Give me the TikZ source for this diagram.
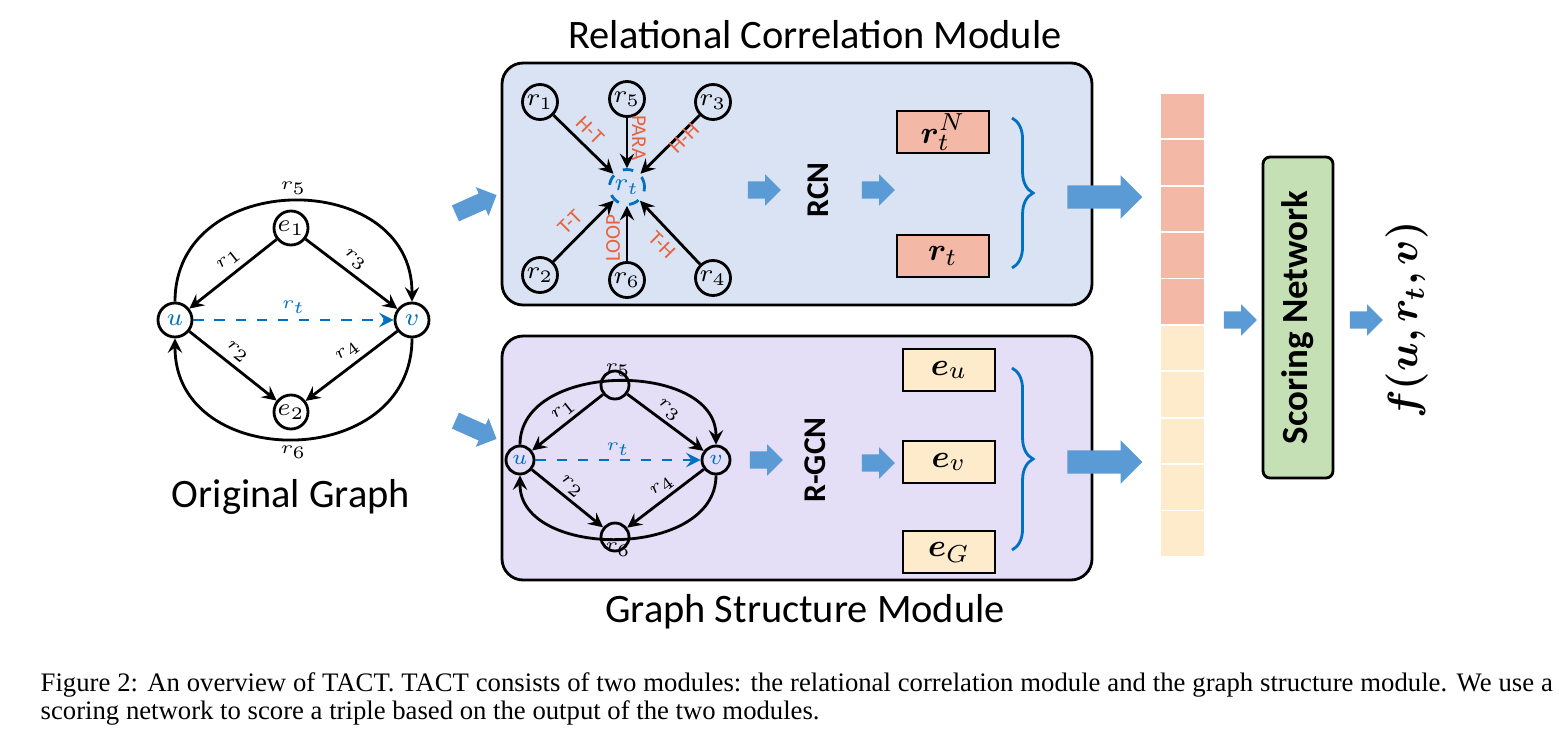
\documentclass[tikz,border=0pt]{standalone}
\usepackage{amsmath,bm}
\usepackage{fontspec}
\setmainfont{Liberation Serif}
\newfontfamily\calfont{Carlito}
\usetikzlibrary{shapes.arrows,decorations.pathreplacing}
\definecolor{bblue}{HTML}{5B9BD5}
\definecolor{lblue}{HTML}{0070C0}
\definecolor{rcbg}{HTML}{DAE3F3}
\definecolor{gsbg}{HTML}{E4DEF6}
\definecolor{salmon}{HTML}{F4B9A6}
\definecolor{beige}{HTML}{FDEBCB}
\definecolor{sgreen}{HTML}{C5E0B4}
\definecolor{rorange}{HTML}{E8603C}
\tikzset{
  ent/.style={circle,draw,thick,minimum size=0.34cm,inner sep=0pt,font=\fontsize{7}{8}\selectfont},
  sent/.style={circle,draw,thick,minimum size=0.28cm,inner sep=0pt,font=\fontsize{6}{7}\selectfont},
  rel/.style={circle,draw,thick,minimum size=0.35cm,inner sep=0pt,font=\fontsize{7}{8}\selectfont},
  edge/.style={thick,->,>=stealth},
  elab/.style={font=\fontsize{5.5}{6}\selectfont,inner sep=1.5pt},
  slab/.style={font=\fontsize{5}{6}\selectfont,inner sep=1pt},
  tlab/.style={text=rorange,font=\calfont\fontsize{6}{7}\selectfont},
  barr/.style={single arrow,fill=bblue,draw=none,inner sep=0pt,minimum height=0.33cm,single arrow head extend=0.07cm,single arrow head indent=0cm},
  bigarr/.style={barr,minimum height=0.75cm,single arrow head extend=0.1cm},
  vbox/.style={draw,thick,minimum width=0.92cm,minimum height=0.42cm,inner sep=0pt,font=\fontsize{9.5}{10}\selectfont},
  cell/.style={draw=white,thin,minimum width=0.45cm,minimum height=0.46cm,inner sep=0pt},
  title/.style={font=\calfont\fontsize{11.5}{13}\selectfont}
}
\newcommand{\sbody}{\rule{0pt}{0.16cm}}
\newcommand{\bbody}{\rule{0pt}{0.22cm}}
\begin{document}
\begin{tikzpicture}
\useasboundingbox (0,0) rectangle (15.59,-7.33);
% original graph
\node[ent,text=lblue] (u) at (1.75,-3.20) {$u$};
\node[ent,text=lblue] (v) at (4.12,-3.20) {$v$};
\node[ent] (e1) at (2.91,-2.28) {$e_1$};
\node[ent] (e2) at (2.91,-4.12) {$e_2$};
\draw[edge] (e1) -- node[elab,sloped,above,pos=0.45] {$r_1$} (u);
\draw[edge] (e1) -- node[elab,sloped,above,pos=0.45] {$r_3$} (v);
\draw[edge] (u) -- node[elab,sloped,above,pos=0.45] {$r_2$} (e2);
\draw[edge] (v) -- node[elab,sloped,above,pos=0.45] {$r_4$} (e2);
\draw[edge,lblue,dashed] (u) -- node[elab,above] {$r_t$} (v);
\draw[edge] (u.north) to[out=90,in=90,looseness=1.45] node[elab,above] {$r_5$} (v.north);
\draw[edge] (v.south) to[out=-90,in=-90,looseness=1.45] node[elab,below] {$r_6$} (u.south);
\node[title] (og) at (2.91,-4.97) {Original Graph};
% relational correlation module
\node[draw,thick,rounded corners=6pt,fill=rcbg,minimum width=5.9cm,minimum height=2.42cm] (rcm) at (7.97,-1.84) {};
\node[title] (rct) at (8.15,-0.35) {Relational Correlation Module};
\node[rel,draw=lblue,dashed,text=lblue] (rt) at (6.27,-1.87) {$r_t$};
\node[rel] (r1) at (5.40,-1.02) {$r_1$};
\node[rel] (r5) at (6.27,-0.99) {$r_5$};
\node[rel] (r3) at (7.13,-1.02) {$r_3$};
\node[rel] (r2) at (5.40,-2.75) {$r_2$};
\node[rel] (r6) at (6.27,-2.80) {$r_6$};
\node[rel] (r4) at (7.13,-2.78) {$r_4$};
\foreach \n in {r1,r5,r3,r2,r6,r4} \draw[edge] (\n) -- (rt);
\node[tlab,rotate=-45] (l1) at (5.90,-1.30) {H-T};
\node[tlab,rotate=-90] (l5) at (6.39,-1.38) {PARA};
\node[tlab,rotate=45] (l3) at (6.84,-1.38) {H-H};
\node[tlab,rotate=45] (l2) at (5.70,-2.22) {T-T};
\node[tlab,rotate=90] (l6) at (6.13,-2.38) {LOOP};
\node[tlab,rotate=-45] (l4) at (6.62,-2.45) {T-H};
\node[barr] (a1) at (7.60,-1.90) {\sbody};
\node[font=\calfont\bfseries\fontsize{9}{10}\selectfont,rotate=90] (rcn) at (8.18,-1.90) {RCN};
\node[barr] (a2) at (8.74,-1.90) {\sbody};
\node[vbox,fill=salmon] (rtn) at (9.43,-1.32) {$\bm{r}_t^N$};
\node[vbox,fill=salmon] (rtb) at (9.43,-2.56) {$\bm{r}_t$};
\draw[lblue,thick,decorate,decoration={brace,amplitude=6pt}] (10.12,-1.18) -- (10.12,-2.68);
\node[bigarr] (a3) at (10.99,-1.97) {\bbody};
% graph structure module
\node[draw,thick,rounded corners=6pt,fill=gsbg,minimum width=5.9cm,minimum height=2.44cm] (gsm) at (7.97,-4.58) {};
\node[title] (gst) at (8.05,-6.12) {Graph Structure Module};
\node[sent,text=lblue] (su) at (5.20,-4.60) {$u$};
\node[sent,text=lblue] (sv) at (7.16,-4.60) {$v$};
\node[sent] (s1) at (6.15,-3.85) {};
\node[sent] (s2) at (6.15,-5.37) {};
\draw[edge] (s1) -- node[slab,sloped,above,pos=0.45] {$r_1$} (su);
\draw[edge] (s1) -- node[slab,sloped,above,pos=0.45] {$r_3$} (sv);
\draw[edge] (su) -- node[slab,sloped,above,pos=0.45] {$r_2$} (s2);
\draw[edge] (sv) -- node[slab,sloped,above,pos=0.45] {$r_4$} (s2);
\draw[edge,lblue,dashed] (su) -- node[slab,above] {$r_t$} (sv);
\draw[edge] (su.north) to[out=90,in=90,looseness=1.1] node[slab,above] {$r_5$} (sv.north);
\draw[edge] (sv.south) to[out=-90,in=-90,looseness=1.1] node[slab,below] {$r_6$} (su.south);
\node[barr] (a4) at (7.62,-4.60) {\sbody};
\node[font=\calfont\bfseries\fontsize{9}{10}\selectfont,rotate=90] (rgcn) at (8.15,-4.60) {R-GCN};
\node[barr] (a5) at (8.74,-4.63) {\sbody};
\node[vbox,fill=beige] (eu) at (9.49,-3.70) {$\bm{e}_u$};
\node[vbox,fill=beige] (ev) at (9.49,-4.62) {$\bm{e}_v$};
\node[vbox,fill=beige] (eg) at (9.49,-5.52) {$\bm{e}_G$};
\draw[lblue,thick,decorate,decoration={brace,amplitude=6pt}] (10.12,-3.68) -- (10.12,-5.50);
\node[bigarr] (a6) at (10.99,-4.62) {\bbody};
% inputs
\node[barr,rotate=24,minimum height=0.45cm] (a7) at (4.72,-2.06) {\sbody};
\node[barr,rotate=-24,minimum height=0.45cm] (a8) at (4.72,-4.28) {\sbody};
% concatenated vector
\foreach \i in {0,...,4} {
  \node[cell,fill=salmon] (c\i) at (11.825,-1.16-0.464*\i) {};
  \node[cell,fill=beige] (d\i) at (11.825,-3.48-0.464*\i) {};
}
\node[barr] (a9) at (12.36,-3.20) {\sbody};
\node[draw,thick,rounded corners=2pt,fill=sgreen,minimum width=0.70cm,minimum height=3.21cm,inner sep=0pt] (sn) at (12.98,-3.175) {};
\node[font=\calfont\bfseries\fontsize{10.5}{11}\selectfont,rotate=90] (snt) at (sn) {Scoring Network};
\node[barr] (a10) at (13.62,-3.20) {\sbody};
\node[rotate=90,font=\fontsize{12}{13}\selectfont] (f) at (14.07,-3.20) {$\bm{f(u,r_t,v)}$};
% caption
\node[anchor=north west,inner sep=0pt,text width=15.12cm,align=justify,font=\fontsize{7.6}{8}\selectfont] (cap) at (0.40,-6.72)
  {Figure 2: An overview of TACT. TACT consists of two modules: the relational correlation module and the graph structure module. We use a scoring network to score a triple based on the output of the two modules.};
\end{tikzpicture}
\end{document}
